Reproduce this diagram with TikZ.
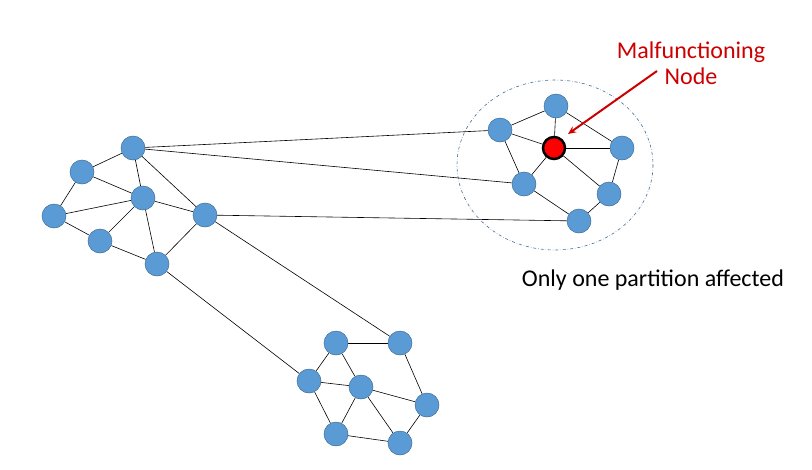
\documentclass[tikz,border=0pt]{standalone}
\usepackage{fontspec}
\setmainfont{Carlito}
\usetikzlibrary{arrows.meta,backgrounds}
\begin{document}
\begin{tikzpicture}[x=1pt,y=-1pt,
 n/.style={circle,fill=nodeblue,draw=nodeblue!70!black,line width=0.5pt,minimum size=24pt,inner sep=0pt},
 e/.style={draw=black,line width=0.6pt}]
\definecolor{nodeblue}{RGB}{91,155,213}
\useasboundingbox (0,0) rectangle (812,469);
\foreach \n/\x/\y in {A/133/148,B/82/172,C/143/198,D/54/216,E/100/241,F/205/215,G/157/264,
 R1/556/106,R2/500/130,R4/622/148,R5/524/184,R6/609/194,R7/579/221,
 S1/336/343,S2/400/343,S3/309/381,S4/361/387,S5/427/405,S6/336/434,S7/400/443}
 \node[n] (\n) at (\x,\y) {};
\node[circle,fill=red,draw=black,line width=2.5pt,minimum size=22pt,inner sep=0pt] (R3) at (554,148) {};
\begin{scope}[on background layer]
\draw[nodeblue!70!black,dash dot,line width=0.6pt] (555,165) ellipse [x radius=98,y radius=85];
\foreach \a/\b in {A/B,A/C,A/F,B/C,B/D,D/C,D/E,E/C,E/G,C/G,C/F,F/G,A/R2,A/R5,F/R7,G/S3,F/S2,
 R2/R1,R1/R3,R2/R3,R1/R4,R3/R4,R2/R5,R3/R5,R3/R6,R5/R7,R7/R6,R6/R4,
 S1/S2,S1/S3,S1/S4,S3/S4,S3/S6,S4/S6,S4/S5,S4/S7,S6/S7,S7/S5,S2/S5}
 \draw[e] (\a) -- (\b);
\end{scope}
\node[text=red!80!black,font=\fontsize{24}{26}\selectfont,align=center] (lab) at (691,63) {Malfunctioning\\Node};
\coordinate (tip) at (568,134);
\draw[red!80!black,line width=2pt,-{Stealth[length=8pt,width=7pt]}] (657,71) -- (tip);
\node[font=\fontsize{24}{26}\selectfont] (cap) at (653,280) {Only one partition affected};
\end{tikzpicture}
\end{document}
